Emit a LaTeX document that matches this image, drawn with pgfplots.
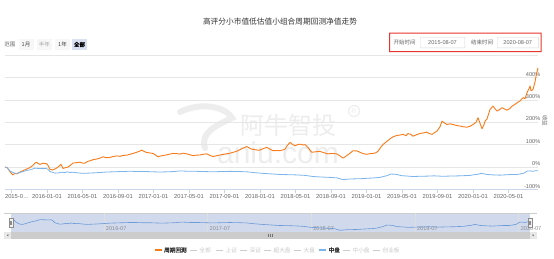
\documentclass[border=0pt]{standalone}
\usepackage{fontspec}
\usepackage{pgfplots}
\usepackage{pgfplotstable}
\pgfplotsset{compat=1.18}
\setmainfont{Liberation Sans}
\newfontfamily\cjk{Noto Sans CJK SC}
\newfontfamily\cjkb[FakeBold=1.5]{Noto Sans CJK SC}
\definecolor{orng}{HTML}{F87B1A}
\definecolor{blu}{HTML}{7CB5EC}
\definecolor{navblu}{HTML}{6C9AD6}
\definecolor{mask}{HTML}{D1DAED}
\definecolor{axblue}{HTML}{CCD6EB}
\definecolor{gridc}{HTML}{E6E6E6}
\definecolor{txt}{HTML}{666666}
\definecolor{wm}{HTML}{EDEDED}
\definecolor{redbox}{RGB}{232,53,46}

% px = horizontal position on the time axis (2016-01-01 at 47, 106.5 per year); val = return in %
\pgfplotstableread{
px val
5 0
7 -2
10 -20
12.7 -35
15 -28
17 -30
20 -22
25 -12
30 -2
33 8
35 18
36.7 22
38 16
40 12
43 17
46.7 15
48 8
50 -10
53 -13
56 -6
58 0
61 12
63 -6
66 -2
68 0
71 10
73 18
77 20
80 22
83 17
85 18
88 26
90 28
93 33
96.7 36
100 40
103 46
106 42
110 43
113 47
116.7 50
120 48
123 52
126.7 53
130 57
133 61
136 65
139 70
141.7 76
144 70
146.7 65
150 63
153 61
156 52
158 46
161 50
165 53
169 57
173 61
177 60
180 58
183 62
186.7 59
190 55
193 51
196 53
200 54
203 57
206.7 59
210 52
213 47
216 50
220 54
225 58
230 62
234 67
238 73
242 82
246.7 92
249 86
251.7 80
255 78
258 75
260 76
263 82
266.7 88
270 80
273 73
277 74
280 73
283 77
285 80
287 95
290 110
293 100
295 95
298 101
300 102
303 99
305 100
308 88
310 75
311.7 66
315 68
320 70
324 64
328 59
332 61
336.7 59
340 50
343 40
346.7 51
350 62
353 73
357 72
360 66
363 60
366.7 57
370 60
373 61
376 64
378 71
381 90
383 101
387 115
390 126
393 135
396.7 141
400 143
403 146
406 140
408 150
411 145
413 138
417 145
420 150
423 152
426.7 156
429 150
432 146
435 155
437 161
440 180
442 205
444 198
447 190
450 193
453 190
456 186
460 183
463 180
467 178
470 182
473 190
476 200
478 220
480 195
482 171
484 190
485 205
487 215
490 257
493 272
495 260
497 250
500 258
502 265
505 258
507 254
510 262
512 272
515 280
517 287
520 295
523 310
525 305
527 332
529 350
530 362
531 340
533 347
535 380
536 406
537 425
538 443
}\orangetab

\pgfplotstableread{
px val
5 0
7 -2
10 -17
13 -24
15 -28
18 -27
20 -24
25 -17
30 -12
33 -8
35 -5
38 -6
40 -6
43 -7
46 -6
48 -10
50 -20
53 -24
55 -27
58 -26
62 -23
65 -25
67 -21
70 -24
73 -23
78 -26
83 -28
88 -27
93 -26
100 -24
107 -22
113 -21
120 -20
127 -19
133 -19
140 -20
147 -20
153 -21
160 -22
167 -21
173 -20
180 -17
190 -19
197 -19
205 -20
213 -21
220 -20
230 -19
240 -20
247 -21
255 -25
263 -28
270 -30
280 -33
290 -34
297 -35
305 -37
313 -42
320 -44
330 -46
337 -48
343 -56
350 -53
360 -52
367 -50
375 -48
380 -46
387 -38
391 -31
395 -32
397 -33
401 -38
407 -40
413 -42
420 -41
430 -40
434 -39
443 -41
450 -40
460 -39
470 -37
474 -34
478 -32
481 -28
485 -31
487 -33
494 -35
500 -36
507 -34
512 -33
517 -33
521 -30
524 -27
527 -18
530 -17
533 -19
535 -16
538 -16
}\bluetab

\begin{document}
\begin{tikzpicture}[x=1pt,y=1pt]
\useasboundingbox (0,0) rectangle (554,258);
\fill[white] (0,0) rectangle (554,258);

% date inputs frame (a filled ring)
\fill[fill=redbox, even odd rule] (389,225.5) rectangle (541.5,206) (390,224.5) rectangle (540.5,207);

% title
\node[font=\cjk\fontsize{7.7}{8}\selectfont, text=black!80] at (280,236) {高评分小市值低估值小组合周期回测净值走势};

% range selector
\node[font=\cjk\fontsize{5.5}{6}\selectfont, text=txt] at (10,213.5) {范围};
\fill[black!3] (18.5,208) rectangle (33.5,219);
\fill[black!3] (36.5,208) rectangle (52,219);
\fill[black!3] (55,208) rectangle (70,219);
\fill[mask!80] (72,208) rectangle (87,219);
\node[font=\cjk\fontsize{5.5}{6}\selectfont, text=black!75] at (26,213.5) {1月};
\node[font=\cjk\fontsize{5.5}{6}\selectfont, text=black!35] at (44.25,213.5) {半年};
\node[font=\cjk\fontsize{5.5}{6}\selectfont, text=black!75] at (62.5,213.5) {1年};
\node[font=\cjkb\fontsize{5.5}{6}\selectfont, text=black] at (79.5,213.5) {全部};

% date inputs
\node[font=\cjk\fontsize{5.5}{6}\selectfont, text=txt] at (404.5,215.5) {开始时间};
\fill[fill=black!15, even odd rule] (420,221) rectangle (465,210) (420.4,220.6) rectangle (464.6,210.4);
\node[font=\fontsize{5.6}{6}\selectfont, text=txt] at (442.5,215.5) {2015-08-07};
\node[font=\cjk\fontsize{5.5}{6}\selectfont, text=txt] at (482,215.5) {结束时间};
\fill[fill=black!15, even odd rule] (497,221) rectangle (538.5,210) (497.4,220.6) rectangle (538.1,210.4);
\node[font=\fontsize{5.6}{6}\selectfont, text=txt] at (517.75,215.5) {2020-08-07};

% watermark
\node[font=\cjk\fontsize{24}{26}\selectfont, text=wm] at (288.5,133) {阿牛智投};
\fill[fill=wm, even odd rule] (354,147) circle (6) (354,147) circle (5.1);
\node[font=\fontsize{7}{8}\selectfont, text=wm] at (354,147) {R};
\node[font=\fontsize{30}{32}\selectfont, text=wm, anchor=base] at (278,95) {aniu.com};
\draw[wm, line width=6pt, line cap=round] (180,146) .. controls (200,156) and (225,152) .. (232,140) .. controls (215,132) and (200,125) .. (205,110);

% main chart
\begin{axis}[
  at={(5pt,68.5pt)}, anchor=south west,
  width=533pt, height=134.5pt, scale only axis,
  xmin=2015.606, xmax=2020.610,
  ymin=-100, ymax=500,
  axis x line*=bottom, axis y line*=right,
  x axis line style={draw=axblue, line width=0.8pt, -},
  y axis line style={draw=none},
  ymajorgrids, grid style={gridc, line width=0.6pt},
  ytick={-100,0,100,200,300,400,500},
  yticklabels={-100\%,0\%,100\%,200\%,300\%,400\%,{}},
  ytick style={draw=none},
  yticklabel style={anchor=south east, inner sep=0.5pt, xshift=0pt, yshift=0.6pt, font=\fontsize{5.6}{6}\selectfont, text=txt},
  xtick={2016,2016.3333,2016.6667,2017,2017.3333,2017.6667,2018,2018.3333,2018.6667,2019,2019.3333,2019.6667,2020,2020.3333},
  xticklabels={2016-01-01,2016-05-01,2016-09-01,2017-01-01,2017-05-01,2017-09-01,2018-01-01,2018-05-01,2018-09-01,2019-01-01,2019-05-01,2019-09-01,2020-01-01,2020-05-01},
  extra x ticks={2015.6667},
  extra x tick labels={2015-0\ldots},
  extra x tick style={xticklabel style={xshift=5.5pt}},
  tick align=outside, major tick length=3pt,
  xtick style={draw=axblue, line width=0.5pt},
  xticklabel style={font=\fontsize{5.8}{6}\selectfont, text=txt, inner sep=1pt, yshift=-0.5pt},
  /pgf/number format/assume math mode=true,
  clip=false,
]
\addplot[orng, line width=0.9pt, line join=round] table[x expr=2016+(\thisrow{px}-47)/106.5, y=val] {\orangetab};
\addplot[blu, line width=0.8pt, line join=round] table[x expr=2016+(\thisrow{px}-47)/106.5, y=val] {\bluetab};
\end{axis}

% y axis title
\node[font=\cjk\fontsize{5.5}{6}\selectfont, text=txt, rotate=-90] at (545,137.5) {收益};

% navigator
\fill[mask] (11,26) rectangle (530,45);
\fill[black!20] (4,44.75) rectangle (537,45.25);
\begin{axis}[
  at={(11pt,26pt)}, anchor=south west,
  width=519pt, height=19pt, scale only axis,
  xmin=2015.606, xmax=2020.610,
  ymin=-64, ymax=26,
  axis line style={draw=none},
  tick style={draw=none},
  ytick=\empty,
  xtick={2016.5,2017.5,2018.5,2019.5,2020.5},
  xticklabels={2016-07,2017-07,2018-07,2019-07,2020-07},
  xmajorgrids, grid style={black!13, line width=0.4pt},
  xticklabel style={anchor=south west, font=\fontsize{5.6}{6}\selectfont, text=black!45, inner sep=0.5pt, xshift=1.5pt, yshift=1pt},
  /pgf/number format/assume math mode=true,
  clip=false,
]
\addplot[navblu, line width=0.6pt, line join=round] table[x expr=2016+(\thisrow{px}-47)/106.5, y=val] {\bluetab};
\end{axis}
% handles
\foreach \hx in {11,530}{
  \filldraw[fill=black!5, draw=black!45, line width=0.4pt] (\hx-2,31) rectangle (\hx+2,40);
  \draw[black!45, line width=0.3pt] (\hx-0.6,33.5) -- (\hx-0.6,37.5) (\hx+0.6,33.5) -- (\hx+0.6,37.5);
}

% scrollbar
\fill[black!5] (4,19.5) rectangle (537,26);
\fill[black!20] (11,19.5) rectangle (530,26);
\fill[black!9] (4,19.5) rectangle (11,26);
\fill[black!9] (530,19.5) rectangle (537,26);
\fill[black!60] (6.8,22.75) -- (8.4,23.8) -- (8.4,21.7) -- cycle;
\fill[black!60] (534.2,22.75) -- (532.6,23.8) -- (532.6,21.7) -- cycle;
\draw[black!55, line width=0.3pt] (268.5,21.5) -- (268.5,24) (270.5,21.5) -- (270.5,24) (272.5,21.5) -- (272.5,24);

% legend
\def\ly{8}
\draw[orng, line width=1.2pt] (155,\ly) -- (162,\ly);
\node[anchor=west, inner sep=0pt, font=\cjkb\fontsize{5.6}{6}\selectfont, text=black!80] at (164,\ly) {周期回测};
\draw[black!20, line width=0.8pt] (190,\ly) -- (197,\ly);
\node[anchor=west, inner sep=0pt, font=\cjk\fontsize{5.6}{6}\selectfont, text=black!22] at (199.5,\ly) {全部};
\draw[black!20, line width=0.8pt] (216,\ly) -- (223,\ly);
\node[anchor=west, inner sep=0pt, font=\cjk\fontsize{5.6}{6}\selectfont, text=black!22] at (225.5,\ly) {上证};
\draw[black!20, line width=0.8pt] (240,\ly) -- (247,\ly);
\node[anchor=west, inner sep=0pt, font=\cjk\fontsize{5.6}{6}\selectfont, text=black!22] at (249.5,\ly) {深证};
\draw[black!20, line width=0.8pt] (264,\ly) -- (271,\ly);
\node[anchor=west, inner sep=0pt, font=\cjk\fontsize{5.6}{6}\selectfont, text=black!22] at (273.5,\ly) {超大盘};
\draw[black!20, line width=0.8pt] (294,\ly) -- (301,\ly);
\node[anchor=west, inner sep=0pt, font=\cjk\fontsize{5.6}{6}\selectfont, text=black!22] at (303.5,\ly) {大盘};
\draw[blu, line width=1.2pt] (319,\ly) -- (326,\ly);
\node[anchor=west, inner sep=0pt, font=\cjkb\fontsize{5.6}{6}\selectfont, text=black!80] at (328.5,\ly) {中盘};
\draw[black!20, line width=0.8pt] (343,\ly) -- (350,\ly);
\node[anchor=west, inner sep=0pt, font=\cjk\fontsize{5.6}{6}\selectfont, text=black!22] at (352.5,\ly) {中小盘};
\draw[black!20, line width=0.8pt] (373,\ly) -- (380,\ly);
\node[anchor=west, inner sep=0pt, font=\cjk\fontsize{5.6}{6}\selectfont, text=black!22] at (382.5,\ly) {创业板};
\end{tikzpicture}
\end{document}
